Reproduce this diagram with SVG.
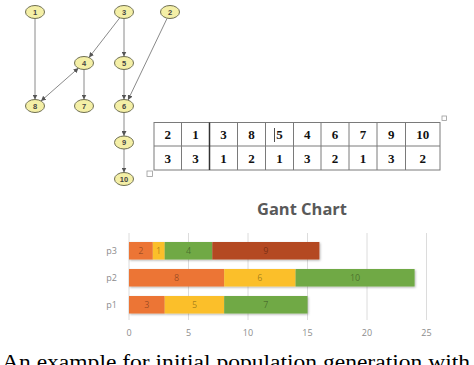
<svg xmlns="http://www.w3.org/2000/svg" width="474" height="365" viewBox="0 0 474 365">
<style>
.nd ellipse{fill:#f4efa6;stroke:#6e6e50;stroke-width:1}
.nd text{font-family:"Liberation Sans",Arial,sans-serif;font-size:7.5px;font-weight:bold;fill:#444;text-anchor:middle}
.ed line{stroke:#8a8a8a;stroke-width:1;fill:none}
.tc{font-family:"Liberation Serif","Times New Roman",serif;font-weight:bold;font-size:13px;fill:#111;text-anchor:middle}
.tl{stroke:#7a7a7a;stroke-width:1}
.grid{stroke:#dcdcdc;stroke-width:1}
.ax{font-family:"Open Sans","Liberation Sans",sans-serif;font-size:9px;fill:#8c8c8c;text-anchor:middle}
.cat{font-family:"Open Sans","Liberation Sans",sans-serif;font-size:9px;fill:#8c8c8c;text-anchor:end}
.bl{font-family:"Open Sans","Liberation Sans",sans-serif;font-size:9px;fill:#000;fill-opacity:0.35;text-anchor:middle}
.or{fill:#ec7535}.ye{fill:#fbbf2a}.gr{fill:#6fa945}.br{fill:#b44a22}
</style>
<defs>
<marker id="ah" viewBox="0 0 10 10" refX="10" refY="5" markerWidth="5" markerHeight="5" markerUnits="userSpaceOnUse" orient="auto-start-reverse">
<path d="M0,0 L10,5 L0,10 z" fill="#555"/>
</marker>
<filter id="sh" x="-5%" y="-20%" width="110%" height="150%">
<feDropShadow dx="0.8" dy="1" stdDeviation="0.8" flood-color="#000" flood-opacity="0.3"/>
</filter>
</defs>

<g id="connectors" class="ed">
<line x1="35" y1="18.5" x2="35" y2="99.5" marker-end="url(#ah)"/>
<line x1="120" y1="17.5" x2="89" y2="57.5" marker-end="url(#ah)"/>
<line x1="124" y1="18.5" x2="124" y2="56.5" marker-end="url(#ah)"/>
<line x1="167" y1="18.5" x2="128" y2="100" marker-end="url(#ah)"/>
<line x1="78.5" y1="68" x2="41" y2="101" marker-start="url(#ah)" marker-end="url(#ah)"/>
<line x1="84" y1="69.5" x2="84" y2="99.5" marker-end="url(#ah)"/>
<line x1="124" y1="69.5" x2="124" y2="99.5" marker-end="url(#ah)"/>
<line x1="124" y1="112.5" x2="124" y2="136" marker-end="url(#ah)"/>
<line x1="124" y1="149" x2="124" y2="172.5" marker-end="url(#ah)"/>
</g>

<g id="n1" class="nd"><ellipse cx="35" cy="12" rx="9.5" ry="6.5"/><text x="35" y="14.7">1</text></g>
<g id="n3" class="nd"><ellipse cx="124" cy="12" rx="9.5" ry="6.5"/><text x="124" y="14.7">3</text></g>
<g id="n2" class="nd"><ellipse cx="170" cy="12" rx="9.5" ry="6.5"/><text x="170" y="14.7">2</text></g>
<g id="n4" class="nd"><ellipse cx="84" cy="63" rx="9.5" ry="6.5"/><text x="84" y="65.7">4</text></g>
<g id="n5" class="nd"><ellipse cx="124" cy="63" rx="9.5" ry="6.5"/><text x="124" y="65.7">5</text></g>
<g id="n8" class="nd"><ellipse cx="35" cy="106" rx="9.5" ry="6.5"/><text x="35" y="108.7">8</text></g>
<g id="n7" class="nd"><ellipse cx="84" cy="106" rx="9.5" ry="6.5"/><text x="84" y="108.7">7</text></g>
<g id="n6" class="nd"><ellipse cx="124" cy="106" rx="9.5" ry="6.5"/><text x="124" y="108.7">6</text></g>
<g id="n9" class="nd"><ellipse cx="124" cy="142.5" rx="9.5" ry="6.5"/><text x="124" y="145.2">9</text></g>
<g id="n10" class="nd"><ellipse cx="124" cy="179" rx="9.5" ry="6.5"/><text x="124" y="181.7">10</text></g>

<g id="table">
<rect x="154" y="122.5" width="286" height="47.5" fill="#fff" class="tl"/>
<line class="tl" x1="154" y1="146" x2="440" y2="146"/>
<line class="tl" x1="181.5" y1="122.5" x2="181.5" y2="170"/>
<line x1="209.5" y1="122.5" x2="209.5" y2="170" stroke="#333" stroke-width="1.5"/>
<line class="tl" x1="237.5" y1="122.5" x2="237.5" y2="170"/>
<line class="tl" x1="265.5" y1="122.5" x2="265.5" y2="170"/>
<line class="tl" x1="293.5" y1="122.5" x2="293.5" y2="170"/>
<line class="tl" x1="321" y1="122.5" x2="321" y2="170"/>
<line class="tl" x1="349" y1="122.5" x2="349" y2="170"/>
<line class="tl" x1="377" y1="122.5" x2="377" y2="170"/>
<line class="tl" x1="405.5" y1="122.5" x2="405.5" y2="170"/>
<text class="tc" x="167.7" y="139">2</text><text class="tc" x="195.5" y="139">1</text><text class="tc" x="223.5" y="139">3</text><text class="tc" x="251.5" y="139">8</text><text class="tc" x="279.5" y="139">5</text><text class="tc" x="307.2" y="139">4</text><text class="tc" x="335" y="139">6</text><text class="tc" x="363" y="139">7</text><text class="tc" x="391.2" y="139">9</text><text class="tc" x="422.7" y="139">10</text>
<text class="tc" x="167.7" y="162.5">3</text><text class="tc" x="195.5" y="162.5">3</text><text class="tc" x="223.5" y="162.5">1</text><text class="tc" x="251.5" y="162.5">2</text><text class="tc" x="279.5" y="162.5">1</text><text class="tc" x="307.2" y="162.5">3</text><text class="tc" x="335" y="162.5">2</text><text class="tc" x="363" y="162.5">1</text><text class="tc" x="391.2" y="162.5">3</text><text class="tc" x="422.7" y="162.5">2</text>
<line x1="274.5" y1="128" x2="274.5" y2="142" stroke="#222" stroke-width="0.8"/>
<rect x="147" y="171" width="5.5" height="5.5" fill="#fff" stroke="#999" stroke-width="0.8"/>
<rect x="442" y="116" width="4.5" height="4.5" fill="#fff" stroke="#999" stroke-width="0.8"/>
</g>

<g id="gantt">
<text x="302" y="215" font-family="'Open Sans','Liberation Sans',sans-serif" font-size="15.5" font-weight="bold" fill="#595959" text-anchor="middle" textLength="90" lengthAdjust="spacingAndGlyphs">Gant Chart</text>
<line class="grid" x1="129" y1="233" x2="129" y2="320"/>
<line class="grid" x1="188.5" y1="233" x2="188.5" y2="320"/>
<line class="grid" x1="248" y1="233" x2="248" y2="320"/>
<line class="grid" x1="307.5" y1="233" x2="307.5" y2="320"/>
<line class="grid" x1="367" y1="233" x2="367" y2="320"/>
<line class="grid" x1="426.5" y1="233" x2="426.5" y2="320"/>
<g filter="url(#sh)">
<rect class="or" x="129" y="242" width="23.8" height="17.5"/>
<rect class="ye" x="152.8" y="242" width="11.9" height="17.5"/>
<rect class="gr" x="164.7" y="242" width="47.6" height="17.5"/>
<rect class="br" x="212.3" y="242" width="107.1" height="17.5"/>
<rect class="or" x="129" y="269" width="95.2" height="17.5"/>
<rect class="ye" x="224.2" y="269" width="71.4" height="17.5"/>
<rect class="gr" x="295.6" y="269" width="119" height="17.5"/>
<rect class="or" x="129" y="296" width="35.7" height="17.5"/>
<rect class="ye" x="164.7" y="296" width="59.5" height="17.5"/>
<rect class="gr" x="224.2" y="296" width="83.3" height="17.5"/>
</g>
<text class="bl" x="140.9" y="254">2</text><text class="bl" x="158.7" y="254">1</text><text class="bl" x="188.5" y="254">4</text><text class="bl" x="265.9" y="254">9</text>
<text class="bl" x="176.6" y="281">8</text><text class="bl" x="259.9" y="281">6</text><text class="bl" x="355.1" y="281">10</text>
<text class="bl" x="146.9" y="308">3</text><text class="bl" x="194.5" y="308">5</text><text class="bl" x="265.9" y="308">7</text>
<text class="cat" x="117" y="254">p3</text><text class="cat" x="117" y="281">p2</text><text class="cat" x="117" y="308">p1</text>
<text class="ax" x="129" y="336">0</text><text class="ax" x="188.5" y="336">5</text><text class="ax" x="248" y="336">10</text><text class="ax" x="307.5" y="336">15</text><text class="ax" x="367" y="336">20</text><text class="ax" x="426.5" y="336">25</text>
</g>

<text x="2" y="369" font-family="'Liberation Serif','Times New Roman',serif" font-size="20" fill="#000" textLength="468" lengthAdjust="spacingAndGlyphs">An example for initial population generation with</text>
</svg>
